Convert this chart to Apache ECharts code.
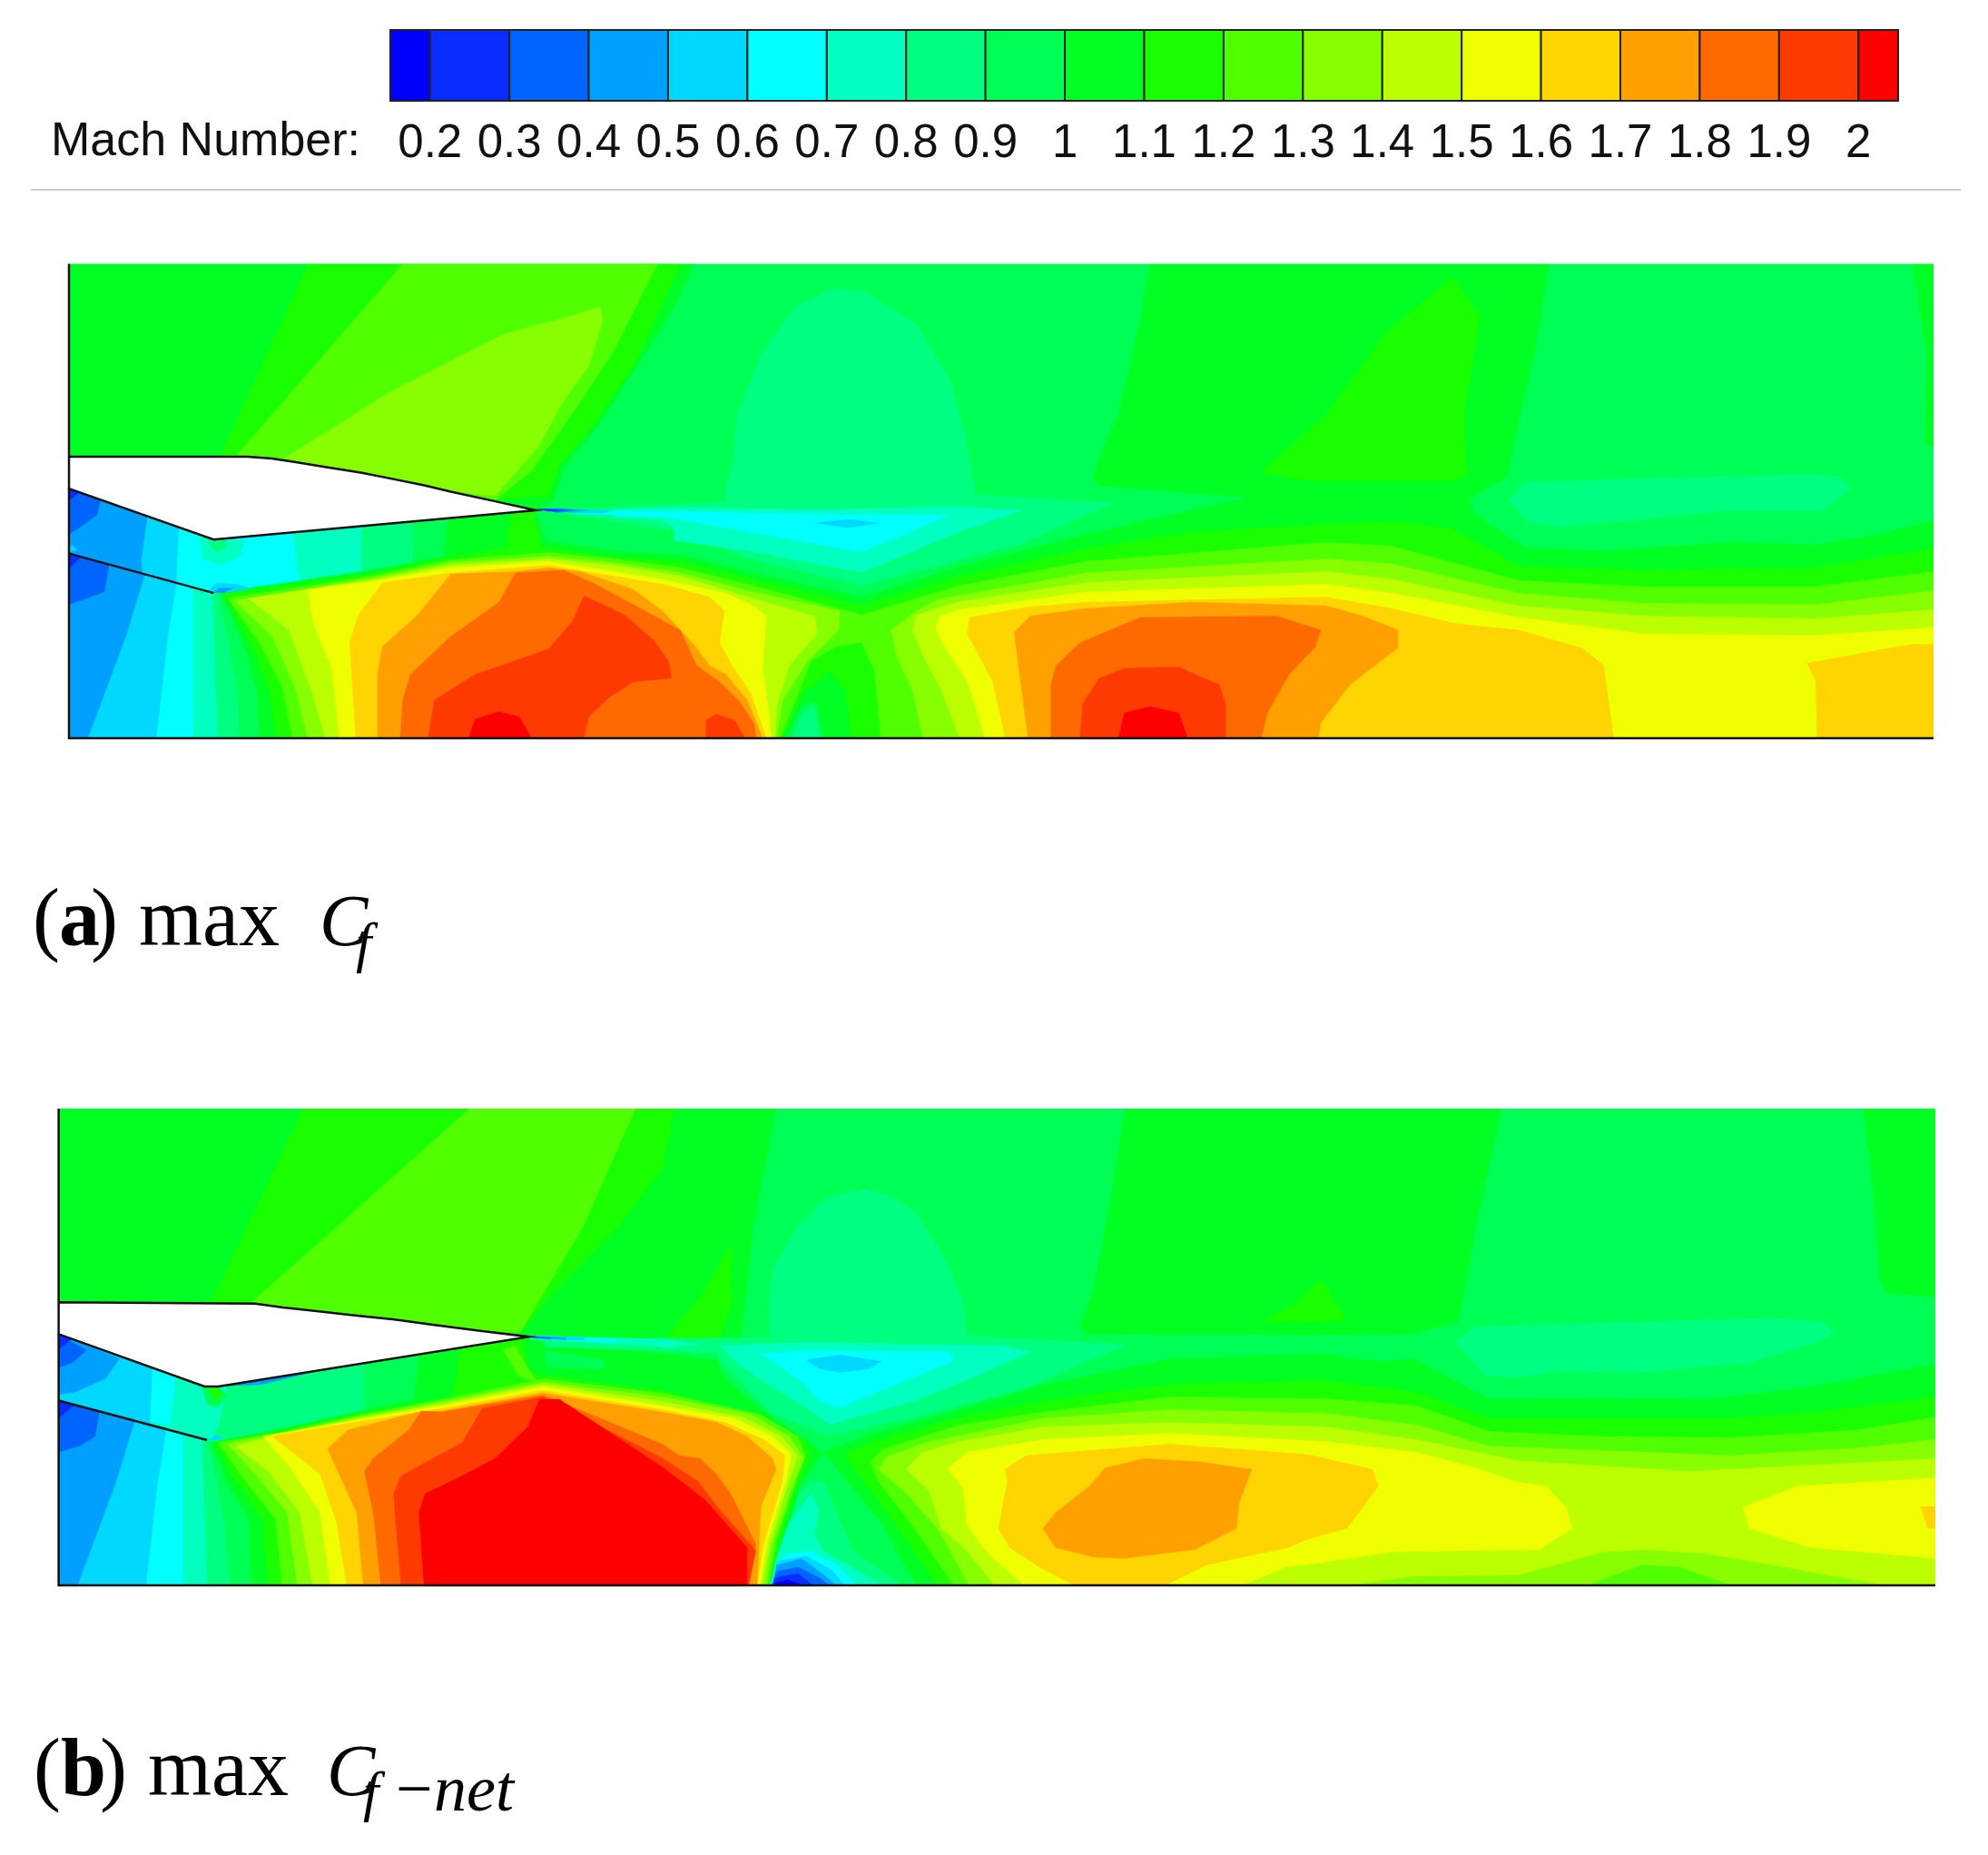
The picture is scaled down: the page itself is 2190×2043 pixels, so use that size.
<!DOCTYPE html>
<html>
<head>
<meta charset="utf-8">
<title>Mach number contours</title>
<script src="https://cdn.jsdelivr.net/npm/echarts@6/dist/echarts.min.js"></script>
<style>html,body{margin:0;background:#fff}#chart{width:2190px;height:2043px}</style>
</head>
<body>
<div id="chart"></div>
<script>
// colour bar
const machLevels = [0.15,0.2,0.3,0.4,0.5,0.6,0.7,0.8,0.9,1,1.1,1.2,1.3,1.4,1.5,1.6,1.7,1.8,1.9,2,2.05];
const bandColors = ['#0000ff','#0a2dff','#0064ff','#00a0ff','#00d8ff','#00ffff','#00ffc0','#00ff80','#00ff55','#00ff22','#1aff00','#50ff00','#88ff00','#bbff00','#f0ff00','#ffd400','#ffa000','#ff6a00','#ff3a00','#ff0000'];
const tickLabels = [0.2,0.3,0.4,0.5,0.6,0.7,0.8,0.9,1,1.1,1.2,1.3,1.4,1.5,1.6,1.7,1.8,1.9,2];

// nozzle walls
const cowlA = [[0,221],[141,221],[160,219.5],[180,216.5],[205,212.5],[230,208.5],[253,204],[280,198.5],[301,193.5],[336,186],[368,179],[114,156],[0,196]];
const wallA = [[0,145],[114,114]];
const edgeA = [[0,372.5],[0,221]];
const floorA = [[0,196],[0,0],[1470,0]];
const cowlB = [[0,222],[155,221],[177,218],[205,215],[232,212],[265,208.5],[295,204.5],[334,199.5],[371,195],[126,156],[115,156],[0,197]];
const wallB = [[0,145],[117,114]];
const edgeB = [[0,374],[0,222]];
const floorB = [[0,197],[0,0],[1480,0]];

// contour regions: [lower Mach of the band, outline], painted in order
const regionsA = [
  [0.9,[[0,0],[1470,0],[1470,372.5],[0,372.5]]],
  // outer flow
  [1,[[0,372.5],[493,372.5],[478,340],[450,295],[417,245],[392,215],[382,187],[370,178],[0,178]]],
  [1.1,[[189,372.5],[482,372.5],[445,292],[409,240],[387,215],[378,190],[340,187],[119,222]]],
  [1.2,[[263,372.5],[464,372.5],[430,305],[402,262],[365,210],[340,190],[336,186],[301,194],[253,205],[205,212],[160,220],[132,222]]],
  [1.3,[[170,220],[253,272],[342,317],[397,332],[419,339],[421,328],[410,292],[390,265],[371,230],[336,190],[301,194],[253,205],[205,212]]],
  // jet, rising levels
  [1,[[119,115],[237,132],[295,143],[301,185],[368,178],[376,155],[429,147],[482,144],[535,131],[625,111],[702,135],[802,160],[928,189],[812,198],[807,203],[812,221],[827,254],[845,331],[852,372.5],[1167,372.5],[1157,310],[1140,235],[1135,207],[1103,187],[1110,175],[1147,150],[1210,147],[1310,154],[1377,152],[1427,160],[1470,171],[1470,0],[151,0],[148,40],[135,80]]],
  [1,[[1453,372.5],[1470,372.5],[1470,230],[1463,231],[1465,300]]],
  [1.1,[[940,209],[991,254],[1037,317],[1090,362],[1113,332],[1100,255],[1102,207],[1090,202],[977,202]]],
  [0.8,[[1147,201],[1243,204],[1377,207.5],[1397,205],[1405,196],[1383,179],[1310,179],[1243,172],[1177,166],[1150,169],[1135,187]]],
  [1.1,[[122,113],[237,129],[301,142],[345,150],[349,181],[366,180],[372,150],[429,142],[482,139],[535,126],[625,104],[702,127],[802,149],[885,162],[991,168],[1043,170],[1090,165],[1143,135],[1243,132],[1377,134],[1427,142],[1470,149],[1470,0],[164,0],[157,40],[143,75]]],
  [1.2,[[125,110],[237,127],[301,140],[378,146],[429,141],[482,134],[535,121],[625,97],[702,120],[802,139],[991,154],[1043,151],[1143,124],[1243,119],[1377,119],[1470,131],[1470,0],[176,0],[168,40],[150,75]]],
  // pocket under the shock crossing
  [1.1,[[561,0],[585,60],[605,72],[625,75],[635,52],[640,0]]],
  [1,[[563,0],[578,35],[600,52],[612,37],[617,0]]],
  [0.9,[[565,0],[578,26],[590,29],[594,0]]],
  [0.8,[[570,0],[580,22],[588,24],[592,0]]],
  // first and second lobes
  [1.3,[[130,108],[237,125.5],[301,138],[378,143],[429,138],[482,130],[535,116],[608,100],[607,85],[582,60],[563,30],[558,0],[188,0],[178,40],[160,80]]],
  [1.3,[[673,0],[665,37],[652,65],[648,85],[668,100],[685,109],[802,130],[991,141],[1043,137],[1143,114],[1243,106],[1377,105],[1470,116],[1470,0]]],
  [1.4,[[141,110],[237,124],[301,136],[378,141],[429,136],[482,127.5],[535,111],[588,96],[590,82],[568,57],[558,25],[557,0],[202,0],[190,40],[173,85]]],
  [1.4,[[702,0],[688,37],[672,67],[665,85],[668,97],[702,107.5],[802,122.5],[991,131],[1043,125],[1143,104],[1243,96],[1377,94],[1470,101],[1470,0]]],
  [1.5,[[188,117],[237,123],[301,134],[378,139],[468,125],[518,114],[538,105],[550,96],[547,57],[552,20],[554,0],[213,0],[207,55],[192,92]]],
  [1.5,[[722,0],[708,45],[688,75],[683,87],[687,96],[702,101],[802,115],[991,121],[1043,114],[1143,95],[1243,82],[1377,81],[1470,87],[1470,0]]],
  [1.6,[[247,122],[301,130],[378,136],[468,121],[505,111],[517,100],[513,75],[523,57],[538,35],[550,0],[226,0],[221,75],[228,97]]],
  [1.6,[[738,0],[728,45],[708,82],[710,95],[755,103],[802,107],[991,111],[1043,102],[1094,90],[1143,85],[1193,71],[1210,57],[1218,0]]],
  [1.6,[[1378,0],[1377,45],[1370,59],[1453,74],[1470,74],[1470,0]]],
  [1.7,[[243,0],[243,50],[247,72],[275,97],[301,129],[352,131],[378,134],[403,131],[445,117],[468,100],[482,85],[494,72],[505,57],[518,50],[535,30],[547,0]]],
  [1.7,[[756,0],[745,83],[758,96],[802,102],[885,107],[991,104],[1020,96],[1048,85],[1048,71],[1010,42],[987,12],[985,0]]],
  [1.8,[[261,0],[263,30],[269,50],[301,80],[339,107],[352,130],[390,132],[413,122],[445,105],[482,85],[495,57],[512,45],[528,30],[540,12],[542,0]]],
  [1.8,[[774,0],[774,42],[778,57],[797,75],[845,95],[952,96],[987,85],[983,72],[962,50],[945,20],[940,0]]],
  [1.9,[[283,0],[288,30],[320,50],[378,70],[397,92],[406,112],[438,97],[461,77],[473,60],[475,47],[445,44],[426,32],[410,17],[406,0]]],
  [1.9,[[502,0],[502,14],[510,19],[525,14],[533,0]]],
  [1.9,[[797,0],[799,27],[812,47],[832,55],[875,56],[907,42],[912,27],[912,0]]],
  [2,[[315,0],[320,15],[339,21],[355,17],[365,0]]],
  [2,[[827,0],[832,20],[852,25],[875,20],[882,0]]],
  // wake behind the cowl tip and dome
  [0.8,[[380,178],[429,182],[518,186],[517,193],[523,218],[527,256],[545,301],[572,339],[602,353],[628,351],[668,325],[695,281],[708,231],[715,191],[825,185],[752,153],[625,120],[535,141],[482,162],[429,170]]],
  [0.7,[[429,180],[468,181],[602,180],[702,182],[752,179],[702,162],[625,130],[535,147],[477,155],[477,165],[468,171],[429,173]]],
  [0.6,[[400,178],[468,178.5],[535,177],[695,175],[625,146],[518,165],[468,174],[400,176]]],
  [0.5,[[587,169],[615,172],[640,169],[615,165]]],
  [0.5,[[395,179.5],[420,179],[429,178.5],[420,176.5],[395,177]]],
  [0.4,[[368,180],[385,180.5],[410,179],[385,177]]],
  [0.3,[[368,180],[385,180],[398,179],[385,177.5]]],
  [0.2,[[368,180],[378,180],[388,179],[378,178]]],
  // fan below the inner wall
  [0.8,[[0,145],[117,114],[125,80],[132,40],[135,0],[0,0]]],
  [0.7,[[0,145],[113,114],[115,60],[117,0],[0,0]]],
  [0.6,[[0,145],[98,119],[98,0],[0,0]]],
  [0.5,[[0,145],[85,122],[78,80],[69,0],[0,0]]],
  [0.4,[[0,145],[60,129],[45,80],[15,0],[0,0]]],
  [0.3,[[0,145],[32,137],[28,115],[15,110],[0,105]]],
  [0.2,[[0,145],[10,143],[0,133]]],
  // stream between the walls
  [0.8,[[0,198],[271,180],[271,138],[237,132],[119,115],[114,114],[0,145]]],
  [0.7,[[0,198],[231,175],[231,131],[119,115],[114,114],[0,145]]],
  [0.6,[[0,198],[176,170],[180,130],[183,124],[119,115],[114,114],[0,145]]],
  [0.5,[[0,198],[87,168],[85,135],[85,122],[0,145]]],
  [0.4,[[0,198],[62,175],[57,140],[58,130],[0,145]]],
  [0.5,[[0,153],[7,148],[0,146]]],
  [0.3,[[0,197],[25,187],[22,175],[8,165],[0,160]]],
  [0.2,[[0,197],[8,193],[0,186]]],
  [0.7,[[103,158],[106,140],[119,136],[135,143],[138,155]]],
  [0.8,[[109,154],[116,146],[125,150],[124,156]]],
  [0.5,[[109,115],[116,122],[132,121],[144,117.5],[122,114]]],
  [0.4,[[114,114],[118,118],[130,118],[122,114]]],
  [null,cowlA]
];

const regionsB = [
  [0.9,[[0,0],[1480,0],[1480,374],[0,374]]],
  // outer flow
  [1,[[0,374],[566,374],[548,282],[538,194],[0,194]]],
  [1.1,[[193,374],[486,374],[476,327],[442,282],[392,232],[364,198],[120,222]]],
  [1.2,[[324,374],[455,374],[414,282],[364,198],[334,199.5],[295,204.5],[232,212],[177,218],[152,222]]],
  [1.1,[[530,267],[531,222],[521,194],[479,194],[506,227]]],
  [1,[[841,374],[830,307],[816,232],[805,203],[810,197],[999,196],[1068,197],[1104,207],[1118,282],[1138,374]]],
  [1,[[1423,374],[1480,374],[1480,226],[1441,229],[1436,239],[1431,307]]],
  [1.1,[[950,207],[976,222],[995,240],[1016,208],[984,206]]],
  // jet, rising levels
  [1,[[120,112],[174,122],[238,137],[280,146],[286,190],[371,195],[382,190],[476,182],[519,177],[526,162],[543,147],[566,129.5],[589,114.5],[603,104.5],[586,79.5],[571,32],[564,0],[152,0],[150,52],[133,79.5]]],
  [1,[[676,0],[650,47],[620,84.5],[610,97],[603,104.5],[643,119.5],[710,138],[776,157],[876,178],[999,182],[1018,178],[1044,176],[1068,178],[1098,162],[1128,146],[1218,147],[1301,146],[1384,156],[1480,174],[1480,0]]],
  [0.8,[[1118,203],[1251,207],[1351,209.5],[1391,207],[1401,198],[1384,189.5],[1334,174.5],[1251,167],[1184,167.5],[1151,163],[1124,164.5],[1101,192]]],
  [1.1,[[123,112],[174,121],[238,135],[310,147],[318,190],[366,195],[370,170],[382,164.5],[476,153],[560,129.5],[588,114.5],[593,102],[583,79.5],[568,32],[563,0],[165,0],[161,52],[139,82]]],
  [1.1,[[693,0],[660,47],[633,84.5],[623,98],[620,104.5],[643,113],[710,132],[776,144.5],[876,158],[999,161],[1071,152],[1128,131],[1218,131],[1318,131],[1384,136],[1480,148],[1480,0]]],
  [1.2,[[126,112],[174,120],[238,134],[302,146],[382,162],[476,151],[553,134.5],[583,117],[589,102],[581,79.5],[566,34.5],[560,0],[176,0],[171,52],[145,84.5]]],
  [1.2,[[706,0],[673,47],[646,82],[640,97],[650,107],[710,126],[776,136],[876,148],[999,146.5],[1071,141],[1128,121],[1218,117],[1318,116],[1418,122],[1480,132],[1480,0]]],
  [1.3,[[133,111],[174,119],[238,132.5],[302,144],[382,159.5],[476,148],[546,134.5],[576,117],[588,99.5],[579,79.5],[563,32],[558,0],[188,0],[180,57],[155,87]]],
  [1.3,[[718,0],[693,44.5],[666,74.5],[646,91],[653,101],[683,112],[776,131],[876,138],[999,135],[1071,126],[1128,109.5],[1218,106],[1318,102],[1418,108],[1480,114.5],[1480,0]]],
  [1.2,[[1206,0],[1248,16],[1278,14.5],[1319.5,0]]],
  [1.4,[[139,109.5],[174,118],[238,131.5],[302,142.5],[382,158],[476,144.5],[540,132],[570,117],[583,102],[576,82],[561,32],[555,0],[200,0],[190,57],[165,89.5]]],
  [1.4,[[738,0],[716,27],[696,44.5],[686,74.5],[668,91],[681,104.5],[710,113],[776,124.5],[876,128],[999,124.5],[1071,114.5],[1151,98],[1284,89.5],[1384,94.5],[1480,99.5],[1480,0],[1441,0],[1301,24.5],[1251,28],[1218,26],[1151,8],[1068,7],[1018,0]]],
  [1.5,[[161,117],[238,130.5],[302,141],[382,156],[476,141],[533,131],[563,117],[578,103],[574.5,84.5],[560,37],[553,0],[214,0],[206,57],[181,94]]],
  [1.5,[[761,0],[733,24.5],[716,47],[713,77],[701,91],[716,104.5],[776,114.5],[876,119.5],[999,113],[1071,104.5],[1118,92],[1151,81],[1173,78],[1189,61],[1194,44.5],[1168,28],[1051,26],[984.5,16],[969,14.5],[933,0]]],
  [1.5,[[1328,61],[1333,44.5],[1381,29.5],[1480,21],[1480,84.5],[1371,78]]],
  [1.6,[[168,117],[238,129],[302,139],[382,153],[476,138],[526,128],[556,114.5],[573,102],[571,82],[556,32],[551,0],[227,0],[219,49.5],[206,87],[181,107]]],
  [1.6,[[800,0],[773,14.5],[750,29.5],[741,44.5],[748,82],[746,91],[763,102],[876,111],[985,103],[1036,91],[1041,78],[1016,44.5],[985,36],[970,29.5],[906,16],[873,0]]],
  [1.6,[[1468,62],[1480,62],[1480,44.5],[1474,44.5]]],
  [1.7,[[228,122],[283,136],[302,137],[382,151],[476,136],[519,128],[543,117],[563,99.5],[566,91],[554,62],[551,0],[240,0],[235,57],[212,107]]],
  [1.7,[[776,44.5],[786,57],[813,78],[825,92],[856,99.5],[900,97],[941,91],[931,64.5],[929,44.5],[896,28],[840,21],[816,22],[786,29.5]]],
  [1.8,[[286,137],[302,136],[382,149.5],[430,130],[476,111],[489,102],[506,99.5],[519,87],[530,72],[550,32],[545,0],[254,0],[248,57],[241,89.5],[248,99.5],[276,122]]],
  [1.9,[[334,139],[382,148],[476,100],[504,82],[521,60],[550,27],[544,0],[270,0],[265,57],[264,72],[270,86],[318,112]]],
  [2,[[379,146],[395,146],[476,93],[510,67],[543,29.5],[543,0],[288,0],[284,57],[289,72],[315,84.5],[344,99.5],[370,124.5]]],
  // low speed spot on the floor
  [0.8,[[593,82],[604,81],[616,52],[626,27],[666,0],[567,0],[573,32],[583,72]]],
  [0.7,[[593,72],[600,59.5],[596,39.5],[603,27],[650,0],[561,0],[566,22],[576,49.5]]],
  [0.6,[[573,24.5],[593,27],[613,17],[630,0],[561,0]]],
  [0.5,[[568,19.5],[590,23],[610,12],[620,0],[562,0]]],
  [0.4,[[566,16],[586,21],[604,8],[613,0],[563,0]]],
  [0.3,[[566,11],[583,14.5],[600,6],[608,0],[563,0]]],
  [0.2,[[564.6,6],[583,9.5],[595,0],[563,0]]],
  [0.15,[[565,2],[575,4.5],[588,0],[565,0]]],
  // wake and dome
  [0.8,[[383,192],[476,194],[561,194.5],[560,222],[563,249],[583,282],[606,304.5],[636,311],[660,304.5],[676,292],[696,262],[713,224.5],[716,196],[843,189],[763,155],[676,132],[606,117],[563,134.5],[540,157],[523,174.5],[519,182],[476,184],[383,187]]],
  [0.7,[[521,188],[593,191],[743,188],[766,183],[726,165],[676,145],[608,126],[590,139],[563,155],[538,172]]],
  [0.7,[[476,193],[506,189],[476,186]]],
  [0.6,[[554,182],[593,184.5],[703,183],[706,176],[616,139.5],[600,144.5],[589,157]]],
  [0.5,[[589,177],[616,181],[649,176],[639,169.5],[616,167],[600,169.5]]],
  [0.7,[[371,196],[483,193],[483,187],[371,193]]],
  [0.6,[[371,196],[440,193.5],[440,190.5],[371,194]]],
  [0.5,[[371,196],[415,194.5],[415,192],[371,194.5]]],
  [0.4,[[371,195.5],[400,194.5],[400,192.5],[371,194.5]]],
  [0.3,[[371,195.5],[388,194.5],[388,193],[371,194.5]]],
  [0.9,[[382,184.5],[430,177],[430,169.5],[385,171]]],
  [1.2,[[350,185],[360,188],[372,168],[378,158],[362,165]]],
  // fan below the inner wall
  [0.8,[[0,145],[117,114],[125,80],[132,40],[135,0],[0,0]]],
  [0.7,[[0,145],[113,115],[115,60],[117,0],[0,0]]],
  [0.6,[[0,145],[98,119],[98,0],[0,0]]],
  [0.5,[[0,145],[85,122],[78,80],[69,0],[0,0]]],
  [0.4,[[0,145],[60,129],[45,80],[15,0],[0,0]]],
  [0.3,[[0,145],[32,136],[29,117],[17.5,109.5],[0,104.5]]],
  [0.2,[[0,145],[12,141],[0,131]]],
  // stream between the walls
  [0.8,[[0,198],[241,185],[241,137],[238,137],[120,112],[117,114],[0,145]]],
  [0.7,[[0,198],[134,160],[126,125],[120,113],[117,114],[0,145]]],
  [0.6,[[0,198],[93,166],[88,125],[0,145]]],
  [0.5,[[0,198],[74,172],[72,126],[0,145]]],
  [0.4,[[0,197],[48,178],[37,162],[14,152],[0,149.5]]],
  [0.3,[[0,197],[22,184.5],[11,174.5],[0,171]]],
  [0.2,[[0,197],[10,193],[0,185]]],
  [0.9,[[113,156],[117,142],[126,139.5],[133,149.5],[126,156]]],
  [1.1,[[117,156],[123,144.5],[130,149.5],[123,156]]],
  [0.5,[[117,114],[124,118],[130,115],[124,114]]],
  [0.4,[[126,156],[200,167],[160,157.5]]],
  [null,cowlB]
];

function bandColor(mach) {
  if (mach === null) return '#ffffff';
  let i = 0;
  while (i < bandColors.length - 1 && machLevels[i + 1] <= mach) i++;
  return bandColors[i];
}

function regionSeries(regions, axisIndex) {
  return {
    type: 'custom',
    xAxisIndex: axisIndex,
    yAxisIndex: axisIndex,
    animation: false,
    silent: true,
    clip: true,
    encode: { x: 0, y: 1 },
    data: regions.map(r => [r[1][0][0], r[1][0][1], r[0]]),
    renderItem: (params, api) => {
      const r = regions[params.dataIndex];
      return {
        type: 'polygon',
        shape: { points: r[1].map(p => api.coord(p)) },
        style: { fill: bandColor(r[0]) }
      };
    }
  };
}

function wallLine(points, axisIndex, closed) {
  return {
    type: 'line',
    xAxisIndex: axisIndex,
    yAxisIndex: axisIndex,
    data: closed ? points.concat([points[0]]) : points,
    showSymbol: false,
    silent: true,
    animation: false,
    clip: false,
    z: 5,
    lineStyle: { color: '#111', width: 2.5, join: 'miter' }
  };
}

const chart = echarts.init(document.getElementById('chart'));
const serifFont = '"Liberation Serif", serif';

function captionText(x, baseline, text, size, fontStyle, fontWeight) {
  return {
    type: 'text',
    x: x,
    y: baseline + size * 0.25,
    silent: true,
    style: { text: text, fill: '#000', font: (fontStyle || 'normal') + ' ' + (fontWeight || 'normal') + ' ' + size + 'px ' + serifFont, verticalAlign: 'bottom' }
  };
}

chart.setOption({
  backgroundColor: '#fff',
  animation: false,
  title: {
    text: 'Mach Number:',
    left: 51,
    top: 126,
    textStyle: { color: '#111', fontFamily: '"Liberation Sans", Arial, sans-serif', fontWeight: 'normal', fontSize: 52 }
  },
  grid: [
    { left: 430, top: 33, width: 1661, height: 78 },
    { left: 76, top: 290.5, width: 2054, height: 522.5 },
    { left: 64.6, top: 1221, width: 2067.4, height: 525 }
  ],
  xAxis: [
    {
      gridIndex: 0, type: 'value', min: 0.15, max: 2.05,
      axisLine: { show: false }, axisTick: { show: false }, splitLine: { show: false },
      axisLabel: {
        customValues: tickLabels,
        formatter: v => String(v),
        color: '#111', fontFamily: '"Liberation Sans", Arial, sans-serif', fontSize: 51, margin: 22,
        hideOverlap: false, showMinLabel: true, showMaxLabel: true
      }
    },
    { gridIndex: 1, type: 'value', min: 0, max: 1470, show: false },
    { gridIndex: 2, type: 'value', min: 0, max: 1480, show: false }
  ],
  yAxis: [
    { gridIndex: 0, type: 'value', min: 0, max: 1, show: false },
    { gridIndex: 1, type: 'value', min: 0, max: 372.5, show: false },
    { gridIndex: 2, type: 'value', min: 0, max: 374, show: false }
  ],
  series: [
    {
      type: 'custom',
      xAxisIndex: 0,
      yAxisIndex: 0,
      silent: true,
      animation: false,
      encode: { x: [0, 1] },
      data: bandColors.map((c, i) => [machLevels[i], machLevels[i + 1]]),
      renderItem: (params, api) => {
        const a = api.coord([api.value(0), 1]);
        const b = api.coord([api.value(1), 0]);
        return {
          type: 'rect',
          shape: { x: a[0], y: a[1], width: b[0] - a[0], height: b[1] - a[1] },
          style: { fill: bandColors[params.dataIndex], stroke: '#222', lineWidth: 2 }
        };
      }
    },
    regionSeries(regionsA, 1),
    wallLine(cowlA, 1, true),
    wallLine(wallA, 1),
    wallLine(edgeA, 1),
    wallLine(floorA, 1),
    regionSeries(regionsB, 2),
    wallLine(cowlB, 2, true),
    wallLine(wallB, 2),
    wallLine(edgeB, 2),
    wallLine(floorB, 2)
  ],
  graphic: [
    { type: 'line', silent: true, shape: { x1: 34, y1: 209, x2: 2160, y2: 209 }, style: { stroke: '#cccccc', lineWidth: 2 } },
    captionText(36, 1040, '(', 90),
    captionText(65, 1040, 'a', 90, 'normal', 'bold'),
    captionText(100, 1040, ')', 90),
    captionText(153, 1040, 'max', 90),
    captionText(352, 1040, 'C', 80, 'italic'),
    captionText(392, 1058, 'f', 62, 'italic'),
    captionText(37, 1976, '(', 90),
    captionText(67, 1976, 'b', 90, 'normal', 'bold'),
    captionText(110, 1976, ')', 90),
    captionText(163, 1976, 'max', 90),
    captionText(360, 1976, 'C', 80, 'italic'),
    captionText(400, 1993, 'f', 62, 'italic'),
    captionText(436, 1993, '\u2212', 72),
    captionText(478, 1993, 'net', 72, 'italic')
  ]
});
</script>
</body>
</html>
